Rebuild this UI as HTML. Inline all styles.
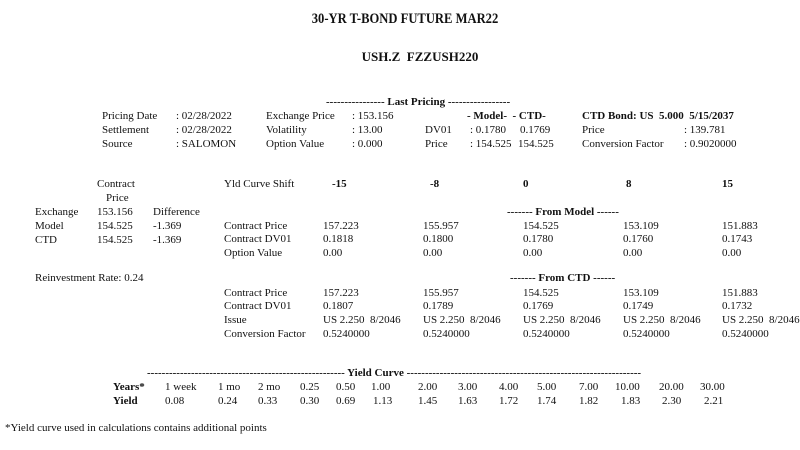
<!DOCTYPE html>
<html><head><meta charset="utf-8"><style>
body{margin:0;width:800px;height:450px;background:#fff;position:relative;overflow:hidden;font-family:"Liberation Serif",serif;color:#111;font-size:11px}
div{position:absolute;white-space:nowrap;line-height:13px}
.b{font-weight:bold}
</style></head><body>
<div class="b" style="left:0;width:810px;text-align:center;top:10px;font-size:15px;line-height:18px;transform:scaleX(0.84)">30-YR T-BOND FUTURE MAR22</div>
<div class="b" style="left:0;width:840px;text-align:center;top:49px;font-size:13px;line-height:16px">USH.Z&nbsp; FZZUSH220</div>

<div class="b" style="left:326px;top:96px">---------------- Last Pricing -----------------</div>
<div style="left:102px;top:110px">Pricing Date</div><div style="left:176px;top:110px">: 02/28/2022</div>
<div style="left:102px;top:124px">Settlement</div><div style="left:176px;top:124px">: 02/28/2022</div>
<div style="left:102px;top:138px">Source</div><div style="left:176px;top:138px">: SALOMON</div>
<div style="left:266px;top:110px">Exchange Price</div><div style="left:352px;top:110px">: 153.156</div>
<div style="left:266px;top:124px">Volatility</div><div style="left:352px;top:124px">: 13.00</div>
<div style="left:266px;top:138px">Option Value</div><div style="left:352px;top:138px">: 0.000</div>
<div class="b" style="left:467px;top:110px">- Model-&nbsp; - CTD-</div>
<div style="left:425px;top:124px">DV01</div><div style="left:470px;top:124px">: 0.1780</div><div style="left:520px;top:124px">0.1769</div>
<div style="left:425px;top:138px">Price</div><div style="left:470px;top:138px">: 154.525</div><div style="left:518px;top:138px">154.525</div>
<div class="b" style="left:582px;top:110px">CTD Bond: US&nbsp; 5.000&nbsp; 5/15/2037</div>
<div style="left:582px;top:124px">Price</div><div style="left:684px;top:124px">: 139.781</div>
<div style="left:582px;top:138px">Conversion Factor</div><div style="left:684px;top:138px">: 0.9020000</div>

<div style="left:97px;top:178px">Contract</div><div style="left:106px;top:192px">Price</div>
<div style="left:35px;top:206px">Exchange</div><div style="left:97px;top:206px">153.156</div><div style="left:153px;top:206px">Difference</div>
<div style="left:35px;top:220px">Model</div><div style="left:97px;top:220px">154.525</div><div style="left:153px;top:220px">-1.369</div>
<div style="left:35px;top:234px">CTD</div><div style="left:97px;top:234px">154.525</div><div style="left:153px;top:234px">-1.369</div>
<div style="left:35px;top:272px">Reinvestment Rate: 0.24</div>

<div style="left:224px;top:178px">Yld Curve Shift</div>
<div class="b" style="left:332px;top:178px">-15</div><div class="b" style="left:430px;top:178px">-8</div><div class="b" style="left:523px;top:178px">0</div><div class="b" style="left:626px;top:178px">8</div><div class="b" style="left:722px;top:178px">15</div>
<div class="b" style="left:507px;top:206px">------- From Model ------</div>
<div style="left:224px;top:220px">Contract Price</div><div style="left:224px;top:233px">Contract DV01</div><div style="left:224px;top:247px">Option Value</div>
<div style="left:323px;top:220px">157.223</div><div style="left:423px;top:220px">155.957</div><div style="left:523px;top:220px">154.525</div><div style="left:623px;top:220px">153.109</div><div style="left:722px;top:220px">151.883</div>
<div style="left:323px;top:233px">0.1818</div><div style="left:423px;top:233px">0.1800</div><div style="left:523px;top:233px">0.1780</div><div style="left:623px;top:233px">0.1760</div><div style="left:722px;top:233px">0.1743</div>
<div style="left:323px;top:247px">0.00</div><div style="left:423px;top:247px">0.00</div><div style="left:523px;top:247px">0.00</div><div style="left:623px;top:247px">0.00</div><div style="left:722px;top:247px">0.00</div>
<div class="b" style="left:510px;top:272px">------- From CTD ------</div>
<div style="left:224px;top:287px">Contract Price</div><div style="left:224px;top:300px">Contract DV01</div><div style="left:224px;top:314px">Issue</div><div style="left:224px;top:328px">Conversion Factor</div>
<div style="left:323px;top:287px">157.223</div><div style="left:423px;top:287px">155.957</div><div style="left:523px;top:287px">154.525</div><div style="left:623px;top:287px">153.109</div><div style="left:722px;top:287px">151.883</div>
<div style="left:323px;top:300px">0.1807</div><div style="left:423px;top:300px">0.1789</div><div style="left:523px;top:300px">0.1769</div><div style="left:623px;top:300px">0.1749</div><div style="left:722px;top:300px">0.1732</div>
<div style="left:323px;top:314px">US 2.250&nbsp; 8/2046</div><div style="left:423px;top:314px">US 2.250&nbsp; 8/2046</div><div style="left:523px;top:314px">US 2.250&nbsp; 8/2046</div><div style="left:623px;top:314px">US 2.250&nbsp; 8/2046</div><div style="left:722px;top:314px">US 2.250&nbsp; 8/2046</div>
<div style="left:323px;top:328px">0.5240000</div><div style="left:423px;top:328px">0.5240000</div><div style="left:523px;top:328px">0.5240000</div><div style="left:623px;top:328px">0.5240000</div><div style="left:722px;top:328px">0.5240000</div>

<div class="b" style="left:147px;top:367px">------------------------------------------------------ Yield Curve ----------------------------------------------------------------</div>
<div class="b" style="left:113px;top:381px">Years*</div><div class="b" style="left:113px;top:395px">Yield</div>
<div style="left:165px;top:381px">1 week</div><div style="left:218px;top:381px">1 mo</div><div style="left:258px;top:381px">2 mo</div><div style="left:300px;top:381px">0.25</div><div style="left:336px;top:381px">0.50</div><div style="left:371px;top:381px">1.00</div><div style="left:418px;top:381px">2.00</div><div style="left:458px;top:381px">3.00</div><div style="left:499px;top:381px">4.00</div><div style="left:537px;top:381px">5.00</div><div style="left:579px;top:381px">7.00</div><div style="left:615px;top:381px">10.00</div><div style="left:659px;top:381px">20.00</div><div style="left:700px;top:381px">30.00</div>
<div style="left:165px;top:395px">0.08</div><div style="left:218px;top:395px">0.24</div><div style="left:258px;top:395px">0.33</div><div style="left:300px;top:395px">0.30</div><div style="left:336px;top:395px">0.69</div><div style="left:373px;top:395px">1.13</div><div style="left:418px;top:395px">1.45</div><div style="left:458px;top:395px">1.63</div><div style="left:499px;top:395px">1.72</div><div style="left:537px;top:395px">1.74</div><div style="left:579px;top:395px">1.82</div><div style="left:621px;top:395px">1.83</div><div style="left:662px;top:395px">2.30</div><div style="left:704px;top:395px">2.21</div>
<div style="left:5px;top:422px;font-size:11px">*Yield curve used in calculations contains additional points</div>
</body></html>
